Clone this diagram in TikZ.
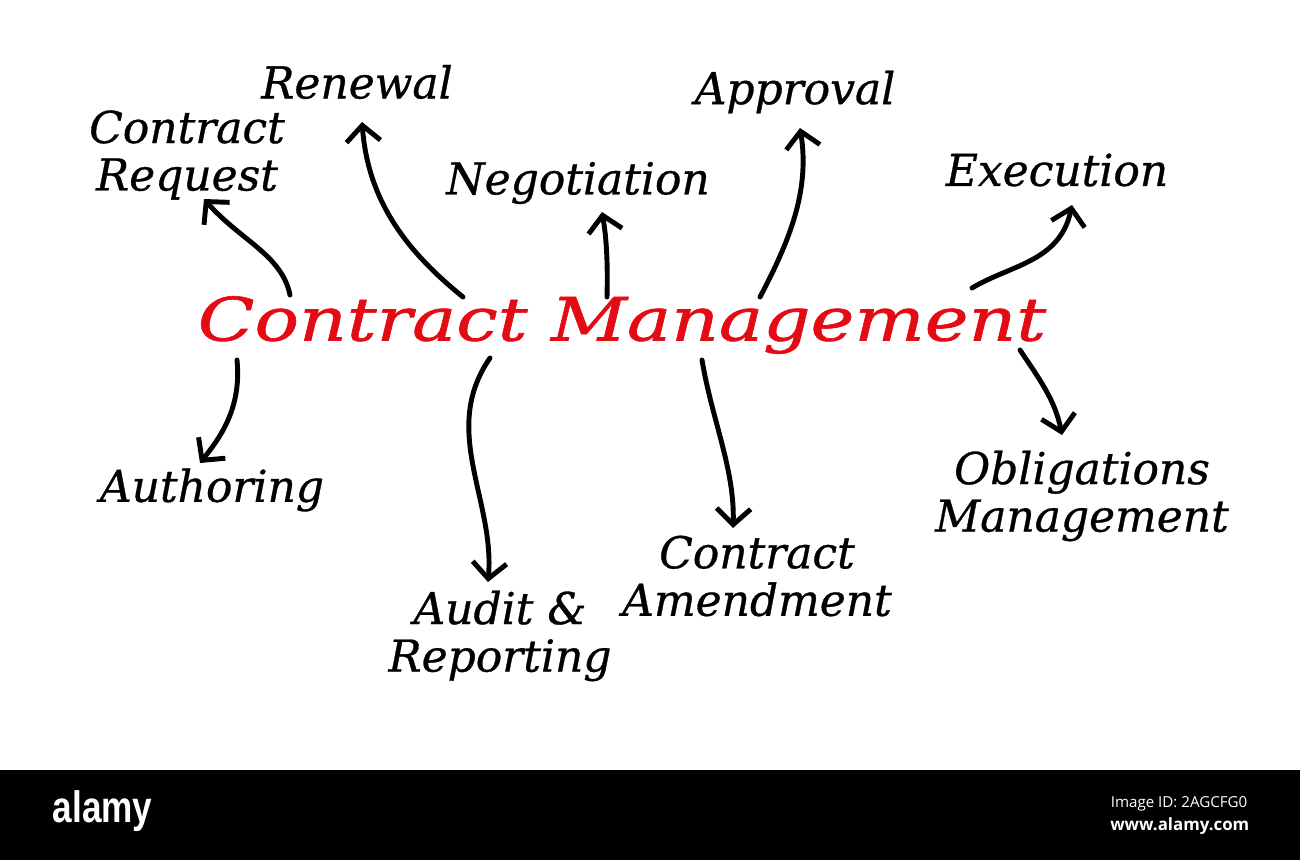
\documentclass[tikz,border=0pt]{standalone}
\usepackage{fontspec}
\usetikzlibrary{arrows.meta}
\newfontfamily\handfont[FakeBold=0.7]{DejaVu Serif}
\newfontfamily\hubfont[FakeStretch=1.24,FakeBold=1.1]{DejaVu Serif}
\newfontfamily\barfont{Liberation Sans}
\newfontfamily\tagfont{Open Sans}
\definecolor{cmred}{RGB}{228,12,20}

\begin{document}
\begin{tikzpicture}[x=0.01cm,y=-0.01cm,
    hub/.style={font=\hubfont\itshape\fontsize{17}{20}\selectfont, text=cmred, inner sep=0pt},
    topic/.style={font=\handfont\itshape\fontsize{12.5}{13.5}\selectfont, align=center, inner sep=0pt},
    branch/.style={line width=1.4pt, line cap=round, -{Straight Barb[length=1.6mm,width=3.4mm]}}]
  \useasboundingbox (0,0) rectangle (1300,860);
  \fill[black] (0,770) rectangle (1300,860);

  \node[hub] (cm) at (622,325) {Contract Management};

  \node[topic] (req) at (187,155) {Contract\\Request};
  \node[topic] (ren) at (357,82) {Renewal};
  \node[topic] (neg) at (578,183) {Negotiation};
  \node[topic] (app) at (795,92) {Approval};
  \node[topic] (exe) at (1057,170) {Execution};
  \node[topic] (aut) at (212,490) {Authoring};
  \node[topic] (aud) at (500,636) {Audit \&\\Reporting};
  \node[topic] (ame) at (757,576) {Contract\\Amendment};
  \node[topic] (obl) at (1082,496) {Obligations\\Management};

  % ends of the hand-drawn arrows
  \coordinate (req-a) at (290,295);  \coordinate (req-b) at (204,199);
  \coordinate (ren-a) at (463,297);  \coordinate (ren-b) at (362,122);
  \coordinate (neg-a) at (607,297);  \coordinate (neg-b) at (602,212);
  \coordinate (app-a) at (760,297);  \coordinate (app-b) at (800,128);
  \coordinate (exe-a) at (972,288);  \coordinate (exe-b) at (1072,205);
  \coordinate (aut-a) at (237,360);  \coordinate (aut-b) at (200,463);
  \coordinate (aud-a) at (490,358);  \coordinate (aud-b) at (488,582);
  \coordinate (ame-a) at (702,360);  \coordinate (ame-b) at (733,528);
  \coordinate (obl-a) at (1020,350); \coordinate (obl-b) at (1062,435);

  \draw[branch] (req-a) .. controls (282,255) and (240,240) .. (req-b);
  \draw[branch] (ren-a) .. controls (405,250) and (368,200) .. (ren-b);
  \draw[branch] (neg-a) .. controls (608,260) and (606,235) .. (neg-b);
  \draw[branch] (app-a) .. controls (790,240) and (810,190) .. (app-b);
  \draw[branch] (exe-a) .. controls (1010,265) and (1060,262) .. (exe-b);
  \draw[branch] (aut-a) .. controls (242,410) and (218,440) .. (aut-b);
  \draw[branch] (aud-a) .. controls (440,430) and (495,500) .. (aud-b);
  \draw[branch] (ame-a) .. controls (712,420) and (735,470) .. (ame-b);
  \draw[branch] (obl-a) .. controls (1040,380) and (1055,400) .. (obl-b);

  \node[white, font=\barfont\bfseries\fontsize{12.5}{13}\selectfont, anchor=base west, inner sep=0pt] (logo) at (52,822) {\scalebox{0.8}[1]{alamy}};
  \node[white, font=\tagfont\fontsize{4.3}{5}\selectfont, anchor=base east, inner sep=0pt] (imgid) at (1248,807) {Image ID: 2AGCFG0};
  \node[white, font=\tagfont\bfseries\fontsize{4.8}{5}\selectfont, anchor=base east, inner sep=0pt] (site) at (1250,830) {www.alamy.com};
\end{tikzpicture}
\end{document}
